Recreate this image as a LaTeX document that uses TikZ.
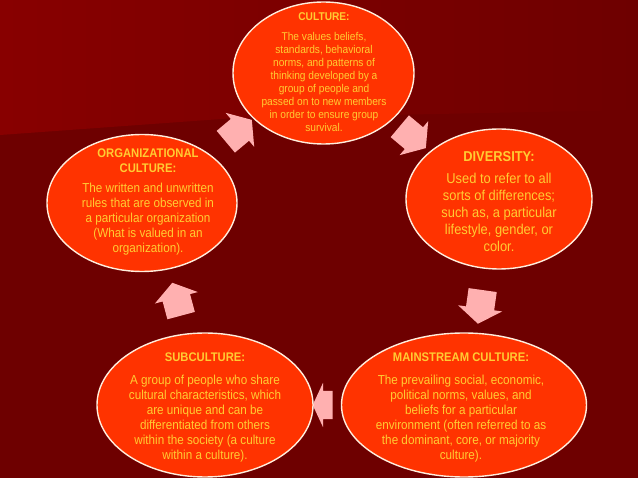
\documentclass[tikz,border=0pt]{standalone}
\usepackage{fontspec}
\setmainfont{Liberation Sans}[FakeStretch=0.9]
\usetikzlibrary{shapes.geometric,shapes.arrows}
\definecolor{bgtop}{HTML}{880000}
\definecolor{bgright}{HTML}{6E0000}
\definecolor{ovalfill}{HTML}{FF3300}
\definecolor{ovalline}{HTML}{FFEEDD}
\definecolor{ovaltext}{HTML}{FFCC33}
\definecolor{arrowpink}{HTML}{FFB0B0}
\newcommand{\ttlA}[1]{{\fontsize{12.5}{15}\selectfont\bfseries #1}}
\begin{document}
\begin{tikzpicture}[x=1pt,y=-1pt,
  oval/.style={ellipse, fill=ovalfill, draw=ovalline, line width=1.4pt, inner sep=0pt},
  ovaltxt/.style={text=ovaltext, align=center, inner sep=0pt},
  cyclearrow/.style={single arrow, fill=arrowpink, draw=none, inner xsep=0pt, inner ysep=14pt,
    minimum width=44pt, single arrow head extend=8pt, single arrow tip angle=110,
    minimum height=34pt}]
\fill[bgright] (0,0) rectangle (638,478);
\shade[left color=bgtop, right color=bgright] (0,0) -- (638,0) -- (638,110) -- (235,118) -- (0,135) -- cycle;
\useasboundingbox (0,0) rectangle (638,478);
% arrows (behind ovals)
\node[cyclearrow, rotate=40] (a1) at (235,134) {};
\node[cyclearrow, rotate=-40] (a2) at (409,134) {};
\node[cyclearrow, rotate=-98] (a3) at (481,302) {};
\node[cyclearrow, rotate=180, minimum height=20pt, single arrow tip angle=130] (a4) at (326,405) {};
\node[cyclearrow, rotate=105] (a5) at (178,304) {};
% ovals
\node[oval, minimum width=181pt, minimum height=142pt] (culture) at (323.5,73) {};
\node[oval, minimum width=190pt, minimum height=137pt] (org) at (142,203) {};
\node[oval, minimum width=186pt, minimum height=140pt] (div) at (499,199) {};
\node[oval, minimum width=216pt, minimum height=144pt] (sub) at (205,405) {};
\node[oval, minimum width=245pt, minimum height=144pt] (main) at (464,405) {};
% texts
\node[ovaltxt, font=\fontsize{11.3}{13}\selectfont] (culturetxt) at (324,72)
  {\textbf{CULTURE:}\\[7pt]The values beliefs,\\standards, behavioral\\norms, and patterns of\\thinking developed by a\\group of people and\\passed on to new members\\in order to ensure group\\survival.};
\node[ovaltxt, font=\fontsize{13}{15}\selectfont] (orgtxt) at (148,202)
  {\ttlA{ORGANIZATIONAL}\\\ttlA{CULTURE:}\\[5pt]The written and unwritten\\rules that are observed in\\a particular organization\\(What is valued in an\\organization).};
\node[ovaltxt, font=\fontsize{14.3}{17.2}\selectfont] (divtxt) at (499,202)
  {\textbf{DIVERSITY:}\\[4pt]Used to refer to all\\sorts of differences;\\such as, a particular\\lifestyle, gender, or\\color.};
\node[ovaltxt, font=\fontsize{13}{15}\selectfont] (subtxt) at (205,407)
  {\ttlA{SUBCULTURE:}\\[8pt]A group of people who share\\cultural characteristics, which\\are unique and can be\\differentiated from others\\within the society (a culture\\within a culture).};
\node[ovaltxt, font=\fontsize{13}{15}\selectfont] (maintxt) at (461,407)
  {\ttlA{MAINSTREAM CULTURE:}\\[8pt]The prevailing social, economic,\\political norms, values, and\\beliefs for a particular\\environment (often referred to as\\the dominant, core, or majority\\culture).};
\end{tikzpicture}
\end{document}
